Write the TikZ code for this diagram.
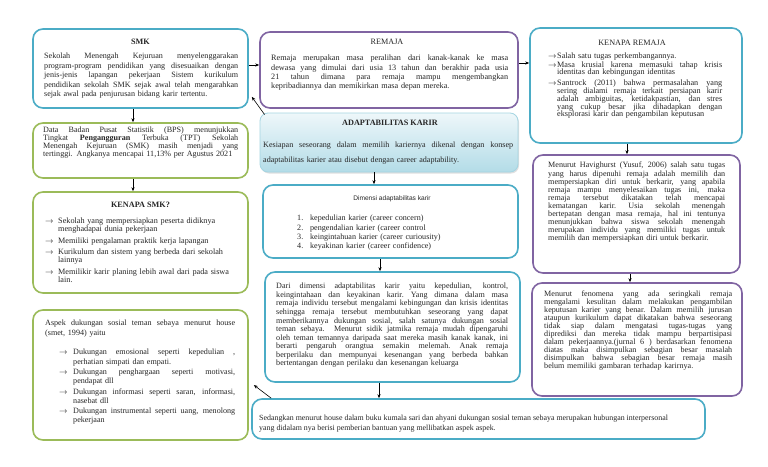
\documentclass[tikz,border=0pt]{standalone}
\usepackage{fontspec}
\setmainfont{Liberation Serif}
\newfontfamily\sansf{Liberation Sans}
\usetikzlibrary{arrows.meta,shadows,calc}
\definecolor{cblue}{HTML}{4BACC6}
\definecolor{cgreen}{HTML}{9BBB59}
\definecolor{cpurple}{HTML}{8064A2}
\definecolor{adab}{HTML}{A5D5E2}
\definecolor{adatop}{HTML}{EEF7FA}
\definecolor{adabot}{HTML}{B3DCE7}
\definecolor{tcol}{HTML}{262626}
\newlength\ArW
\newlength\LW
\newcommand\SG{\spaceskip=.25em plus 20em minus .06em\xspaceskip=.3em plus 20em minus .06em\relax}
\newcommand\JL[1]{\noindent\hbox to \LW{\SG #1}}
\newcommand\ArJ[1]{\noindent\hbox to \LW{\hbox to \ArW{$\rightarrow$\hss}\SG #1}}
\newcommand\ArR[1]{\noindent\hbox to \ArW{$\rightarrow$\hss}#1}
\newcommand\CoJ[1]{\noindent\hbox to \LW{\hskip\ArW\SG #1}}
\newcommand\CoR[1]{\noindent\hspace*{\ArW}#1}
\begin{document}
\begin{tikzpicture}[x=1pt,y=-1pt,
  rbox/.style={draw=#1, line width=1.6pt, rounded corners=10pt, inner sep=0pt},
  abox/.style={draw=adab, line width=0.8pt, rounded corners=8pt, inner sep=0pt,
     top color=adatop, bottom color=adabot,
     drop shadow={shadow xshift=1pt,shadow yshift=-1.5pt,opacity=0.25}},
  tx/.style={anchor=north west, inner sep=0pt, text=tcol, align=left,
     text width=#1, execute at begin node={\setlength\LW{#1}}},
  ttl/.style={inner sep=0pt, text=tcol, font=\fontsize{8.2}{10}\selectfont},
  arr/.style={-{Stealth[length=4pt,width=3.2pt]}, line width=0.6pt, draw=black}]
\fill[white] (0,0) rectangle (768,466);
\useasboundingbox (0,0) rectangle (768,466);

% ---------- left column ----------
\node[rbox=cblue, minimum width=215pt, minimum height=79pt] (smk) at (140.5,68.5) {};
\node[ttl] (smkT) at (140.5,42) {\textbf{SMK}};
\node[tx=194pt, font=\fontsize{8.1}{9.5}\selectfont] (smkB) at (44,53)
 {\JL{Sekolah Menengah Kejuruan menyelenggarakan}\\
  \JL{program-program pendidikan yang disesuaikan dengan}\\
  \JL{jenis-jenis lapangan pekerjaan Sistem kurikulum}\\
  \JL{pendidikan sekolah SMK sejak awal telah mengarahkan}\\
  sejak awal pada penjurusan bidang karir tertentu.};

\node[rbox=cgreen, minimum width=215pt, minimum height=55pt] (bps) at (140.5,150.5) {};
\node[tx=195pt, font=\fontsize{8.1}{8}\selectfont] (bpsB) at (43,127)
 {\JL{Data Badan Pusat Statistik (BPS) menunjukkan}\\
  \JL{Tingkat \textbf{Pengangguran} Terbuka (TPT) Sekolah}\\
  \JL{Menengah Kejuruan (SMK) masih menjadi yang}\\
  tertinggi. Angkanya mencapai 11,13\% per Agustus 2021};

\node[rbox=cgreen, minimum width=215pt, minimum height=101pt] (ksmk) at (140.5,242.5) {};
\node[ttl] (ksmkT) at (140.5,205) {\textbf{KENAPA SMK?}};
\node[tx=190pt, font=\fontsize{8.2}{8}\selectfont] (ksmkB) at (45,218)
 {\setlength\ArW{13pt}\ArR{Sekolah yang mempersiapkan peserta didiknya}\\
  \CoR{menghadapai dunia pekerjaan}\\[3.5pt]
  \ArR{Memiliki pengalaman praktik kerja lapangan}\\[3.5pt]
  \ArR{Kurikulum dan sistem yang berbeda dari sekolah}\\
  \CoR{lainnya}\\[3.5pt]
  \ArR{Memilikir karir planing lebih awal dari pada siswa}\\
  \CoR{lain.}};

\node[rbox=cgreen, minimum width=215pt, minimum height=130pt] (asp) at (140.5,375) {};
\node[tx=190pt, font=\fontsize{8.1}{9.3}\selectfont] (aspA) at (45,320)
 {\JL{Aspek dukungan sosial teman sebaya menurut house}\\
  (smet, 1994) yaitu};
\node[tx=176pt, font=\fontsize{8.1}{9.3}\selectfont] (aspB) at (59,349)
 {\setlength\ArW{14pt}\ArJ{Dukungan emosional seperti kepedulian ,}\\
  \CoR{perhatian simpati dan empati.}\\[1pt]
  \ArJ{Dukungan penghargaan seperti motivasi,}\\
  \CoR{pendapat dll}\\[1pt]
  \ArJ{Dukungan informasi seperti saran, informasi,}\\
  \CoR{nasebat dll}\\[1pt]
  \ArJ{Dukungan instrumental seperti uang, menolong}\\
  \CoR{pekerjaan}};

% ---------- middle column ----------
\node[rbox=cpurple, minimum width=258pt, minimum height=76pt] (rem) at (389,70) {};
\node[ttl] (remT) at (387,42) {REMAJA};
\node[tx=237pt, font=\fontsize{8.2}{9.3}\selectfont] (remB) at (271,55)
 {\JL{Remaja merupakan masa peralihan dari kanak-kanak ke masa}\\
  \JL{dewasa yang dimulai dari usia 13 tahun dan berakhir pada usia}\\
  \JL{21 tahun dimana para remaja mampu mengembangkan}\\
  kepribadiannya dan memikirkan masa depan mereka.};

\node[abox, minimum width=258pt, minimum height=59pt] (ada) at (389,142.5) {};
\node[ttl] (adaT) at (390,123) {\textbf{ADAPTABILITAS KARIR}};
\node[tx=250pt, font=\fontsize{8.1}{15}\selectfont] (adaB) at (263,142)
 {\JL{Kesiapan seseorang dalam memilih kariernya dikenal dengan konsep}\\
  adaptabilitas karier atau disebut dengan career adaptability.};

\node[rbox=cblue, minimum width=255pt, minimum height=73pt] (dim) at (390.5,221.5) {};
\node[ttl, font=\sansf\fontsize{6.6}{8}\selectfont] (dimT) at (392,199) {Dimensi adaptabilitas karir};
\node[tx=200pt, font=\fontsize{8.1}{9.3}\selectfont] (dimB) at (297,215)
 {\makebox[13pt][l]{1.}kepedulian karier (career concern)\\
  \makebox[13pt][l]{2.}pengendalian karier (career control\\
  \makebox[13pt][l]{3.}keingintahuan karier (career curiousity)\\
  \makebox[13pt][l]{4.}keyakinan karier (career confidence)};

\node[rbox=cblue, minimum width=255pt, minimum height=110pt] (dari) at (392.5,327) {};
\node[tx=232pt, font=\fontsize{8.1}{8.55}\selectfont] (dariB) at (276,283)
 {\JL{Dari dimensi adaptabilitas karir yaitu kepedulian, kontrol,}\\
  \JL{keingintahaan dan keyakinan karir. Yang dimana dalam masa}\\
  \JL{remaja individu tersebut mengalami kebingungan dan krisis identitas}\\
  \JL{sehingga remaja tersebut membutuhkan seseorang yang dapat}\\
  \JL{memberikannya dukungan sosial, salah satunya dukungan sosial}\\
  \JL{teman sebaya.\ \ Menurut sidik jatmika remaja mudah dipengaruhi}\\
  \JL{oleh teman temannya daripada saat mereka masih kanak kanak, ini}\\
  \JL{berarti pengaruh orangtua semakin melemah. Anak remaja}\\
  \JL{berperilaku dan mempunyai kesenangan yang berbeda bahkan}\\
  bertentangan dengan perilaku dan kesenangan keluarga};

\node[rbox=cblue, minimum width=453pt, minimum height=40pt] (bot) at (478.5,419) {};
\node[anchor=north west, inner sep=0pt, text=tcol, align=left, font=\fontsize{7.9}{10}\selectfont] (botB) at (259,414.5)
 {Sedangkan menurut house dalam buku kumala sari dan ahyani dukungan sosial teman sebaya merupakan hubungan interpersonal\\
  yang didalam nya berisi pemberian bantuan yang mellibatkan aspek aspek.};

% ---------- right column ----------
\node[rbox=cblue, minimum width=212pt, minimum height=115pt] (kre) at (636,85.5) {};
\node[ttl] (kreT) at (632,43) {KENAPA REMAJA};
\node[tx=174pt, font=\fontsize{8.2}{7.8}\selectfont] (kreB) at (548,53)
 {\setlength\ArW{9pt}\ArR{Salah satu tugas perkembangannya.}\\[0.4pt]
  \ArJ{Masa krusial karena memasuki tahap krisis}\\
  \CoR{identitas dan kebingungan identitas}\\[3pt]
  \ArJ{Santrock (2011) bahwa permasalahan yang}\\
  \CoJ{sering dialami remaja terkait persiapan karir}\\
  \CoJ{adalah ambiguitas, ketidakpastian, dan stres}\\
  \CoJ{yang cukup besar jika dihadapkan dengan}\\
  \CoR{eksplorasi karir dan pengambilan keputusan}};

\node[rbox=cpurple, minimum width=207pt, minimum height=118pt] (hav) at (636.5,214) {};
\node[tx=177pt, font=\fontsize{8.1}{8.1}\selectfont] (havB) at (548,162)
 {\JL{Menurut Havighurst (Yusuf, 2006) salah satu tugas}\\
  \JL{yang harus dipenuhi remaja adalah memilih dan}\\
  \JL{mempersiapkan diri untuk berkarir, yang apabila}\\
  \JL{remaja mampu menyelesaikan tugas ini, maka}\\
  \JL{remaja tersebut dikatakan telah mencapai}\\
  \JL{kematangan karir. Usia sekolah menengah}\\
  \JL{bertepatan dengan masa remaja, hal ini tentunya}\\
  \JL{menunjukkan bahwa siswa sekolah menengah}\\
  \JL{merupakan individu yang memiliki tugas untuk}\\
  memilih dan mempersiapkan diri untuk berkarir.};

\node[rbox=cpurple, minimum width=210pt, minimum height=113pt] (fen) at (637,339.5) {};
\node[tx=188pt, font=\fontsize{8.1}{8}\selectfont] (fenB) at (544,291)
 {\JL{Menurut fenomena yang ada seringkali remaja}\\
  \JL{mengalami kesulitan dalam melakukan pengambilan}\\
  \JL{keputusan karier yang benar. Dalam memilih jurusan}\\
  \JL{ataupun kurikulum dapat dikatakan bahwa seseorang}\\
  \JL{tidak siap dalam mengatasi tugas-tugas yang}\\
  \JL{diprediksi dan mereka tidak mampu berpartisipasi}\\
  \JL{dalam pekerjaannya.(jurnal 6 ) berdasarkan fenomena}\\
  \JL{diatas maka disimpulkan sebagian besar masalah}\\
  \JL{disimpulkan bahwa sebagian besar remaja masih}\\
  belum memiliki gambaran terhadap karirnya.};

% ---------- connectors ----------
\coordinate (c1) at ($(smk.south)+(-7.5,0)$);
\draw[arr] (c1) -- (c1 |- bps.north);
\coordinate (c2) at ($(bps.south)+(-7.5,0)$);
\draw[arr] (c2) -- (c2 |- ksmk.north);
\coordinate (c3) at ($(smk.east)+(0,-3.5)$);
\draw[arr] (c3) -- (c3 -| rem.west);
\coordinate (c4) at ($(rem.east)+(0,-7)$);
\draw[arr] (c4) -- (c4 -| kre.west);
\coordinate (c5) at ($(kre.south)+(-9,0)$);
\draw[arr] (c5) -- (c5 |- hav.north);
\coordinate (c6) at ($(hav.south)+(-6.5,0)$);
\draw[arr] (c6) -- (c6 |- fen.north);
\coordinate (c7) at ($(ada.south)+(-15,0)$);
\draw[arr] (c7) -- (c7 |- dim.north);
\coordinate (c8) at ($(dim.south)+(-10.5,0)$);
\draw[arr] (c8) -- (c8 |- dari.north);
\coordinate (c9) at ($(dari.south)+(-13.5,0)$);
\draw[arr] (c9) -- (c9 |- bot.north);
\coordinate (d1) at ($(ada.north west)+(5,2)$);
\coordinate (d2) at ($(smk.south east)+(3,-12)$);
\draw[arr] (d1) -- (d2);
\coordinate (d3) at ($(bot.north west)+(20,0)$);
\coordinate (d4) at ($(asp.east)+(5,10)$);
\draw[arr] (d3) -- (d4);
\end{tikzpicture}
\end{document}
